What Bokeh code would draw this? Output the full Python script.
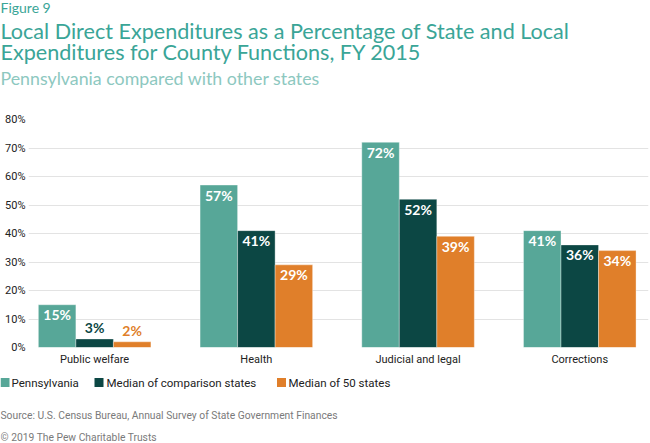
from bokeh.plotting import figure
from bokeh.layouts import column
from bokeh.models import ColumnDataSource, Range1d, FixedTicker, NumeralTickFormatter
from bokeh.core.properties import value
from bokeh.embed import file_html
from bokeh.resources import INLINE

# ---- data ----
categories = ["Public welfare", "Health", "Judicial and legal", "Corrections"]
series_names = ["Pennsylvania", "Median of comparison states", "Median of 50 states"]
pennsylvania = [15, 57, 72, 41]
comparison = [3, 41, 52, 36]
fifty_states = [2, 29, 39, 34]
y_ticks = [0, 10, 20, 30, 40, 50, 60, 70, 80]

colors = ["#57a798", "#0c4744", "#e07f2a"]
TEAL = "#3aa597"
SUBTEAL = "#8dc8bf"
TFONT = "Lato"
SFONT = "Roboto"
BFONT = "Lato"

W = 650
TOP_H, CHART_H, BOT_H = 100, 270, 73


def blank(h, y_top):
    f = figure(width=W, height=h, output_backend="svg", toolbar_location=None,
               x_range=Range1d(0, W), y_range=Range1d(y_top + h, y_top),
               x_axis_location=None, y_axis_location=None,
               min_border=0, min_border_left=0, min_border_right=0,
               min_border_top=0, min_border_bottom=0)
    f.grid.visible = False
    f.outline_line_color = None
    f.background_fill_color = "white"
    f.border_fill_color = "white"
    f.frame_align = False
    return f


# ---- header ----
top = blank(TOP_H, 0)
head = [
    ("Figure 9", 0, 7, "14px", TEAL),
    ("Local Direct Expenditures as a Percentage of State and Local", 0, 30.5, "21.6px", TEAL),
    ("Expenditures for County Functions, FY 2015", 0, 51.3, "21.6px", TEAL),
    ("Pennsylvania compared with other states", 0, 77.5, "17.8px", SUBTEAL),
]
for t, x, y, fs, col in head:
    top.text(x=[x], y=[y], text=[t], text_font=value(TFONT), text_font_size=fs,
             text_color=col, text_baseline="middle", text_align="left")

# ---- chart ----
X0, X1 = -0.409, 3.425
p = figure(width=W, height=CHART_H, output_backend="svg", toolbar_location=None,
           x_range=Range1d(X0, X1), y_range=Range1d(0, 80),
           min_border_left=28, min_border_right=2,
           min_border_top=19, min_border_bottom=23)
p.frame_align = False
p.outline_line_color = None
p.background_fill_color = "white"
p.border_fill_color = "white"

bar_w = 0.232
offsets = [-bar_w, 0, bar_w]
all_series = [pennsylvania, comparison, fifty_states]
for k, (vals, col) in enumerate(zip(all_series, colors)):
    xs = [i + offsets[k] for i in range(len(categories))]
    src = ColumnDataSource(dict(x=xs, top=vals))
    p.vbar(x="x", top="top", width=bar_w, source=src, fill_color=col,
           line_color="white", line_alpha=0.35, line_width=1)
    ins = ColumnDataSource(dict(x=[x for x, v in zip(xs, vals) if v >= 10],
                                y=[v for v in vals if v >= 10],
                                t=[f"{v}%" for v in vals if v >= 10]))
    outs = ColumnDataSource(dict(x=[x for x, v in zip(xs, vals) if v < 10],
                                 y=[v for v in vals if v < 10],
                                 t=[f"{v}%" for v in vals if v < 10]))
    p.text(x="x", y="y", text="t", source=ins, text_color="white",
           text_font=value(BFONT), text_font_style="bold", text_font_size="14px",
           text_align="center", text_baseline="middle", y_offset=10)
    p.text(x="x", y="y", text="t", source=outs, text_color=col,
           text_font=value(BFONT), text_font_style="bold", text_font_size="14px",
           text_align="center", text_baseline="middle", y_offset=-11)

p.yaxis.ticker = FixedTicker(ticks=y_ticks)
p.yaxis.formatter = NumeralTickFormatter(format="0")
p.yaxis.major_label_overrides = {t: f"{t}%" for t in y_ticks}
p.xaxis.ticker = FixedTicker(ticks=list(range(len(categories))))
p.xaxis.major_label_overrides = {i: c for i, c in enumerate(categories)}
for ax in (p.xaxis, p.yaxis):
    ax.axis_line_color = None
    ax.major_tick_line_color = None
    ax.minor_tick_line_color = None
    ax.major_tick_out = 0
    ax.major_tick_in = 0
    ax.major_label_text_font = SFONT
    ax.major_label_text_color = "#222222"
p.yaxis.major_label_standoff = 3
p.yaxis.major_label_text_font_size = "11px"
p.xaxis.major_label_standoff = 5
p.xaxis.major_label_text_font_size = "11px"

p.xgrid.grid_line_color = None
p.ygrid.grid_line_color = "#e3e3e3"
p.ygrid.grid_line_width = 1

# ---- footer: legend and notes ----
bot = blank(BOT_H, TOP_H + CHART_H)
leg_sq_x = [4.5, 98.5, 281]
leg_tx_x = [11, 106, 288]
leg_y = 382
bot.rect(x=leg_sq_x, y=[leg_y] * 3, width=9, height=9, fill_color=colors,
         line_color=None)
bot.text(x=leg_tx_x, y=[leg_y] * 3, text=series_names, text_font=value(SFONT),
         text_font_size="11.5px", text_color="#222222", text_baseline="middle",
         text_align="left")
notes = ["Source: U.S. Census Bureau, Annual Survey of State Government Finances",
         "\u00a9 2019 The Pew Charitable Trusts"]
bot.text(x=[0, 0], y=[415, 436.5], text=notes, text_font=value(SFONT),
         text_font_size="10.3px", text_color="#7a7a7a", text_baseline="middle",
         text_align="left")

layout = column(top, p, bot, spacing=0)
open("out.html", "w").write(file_html(layout, INLINE))
